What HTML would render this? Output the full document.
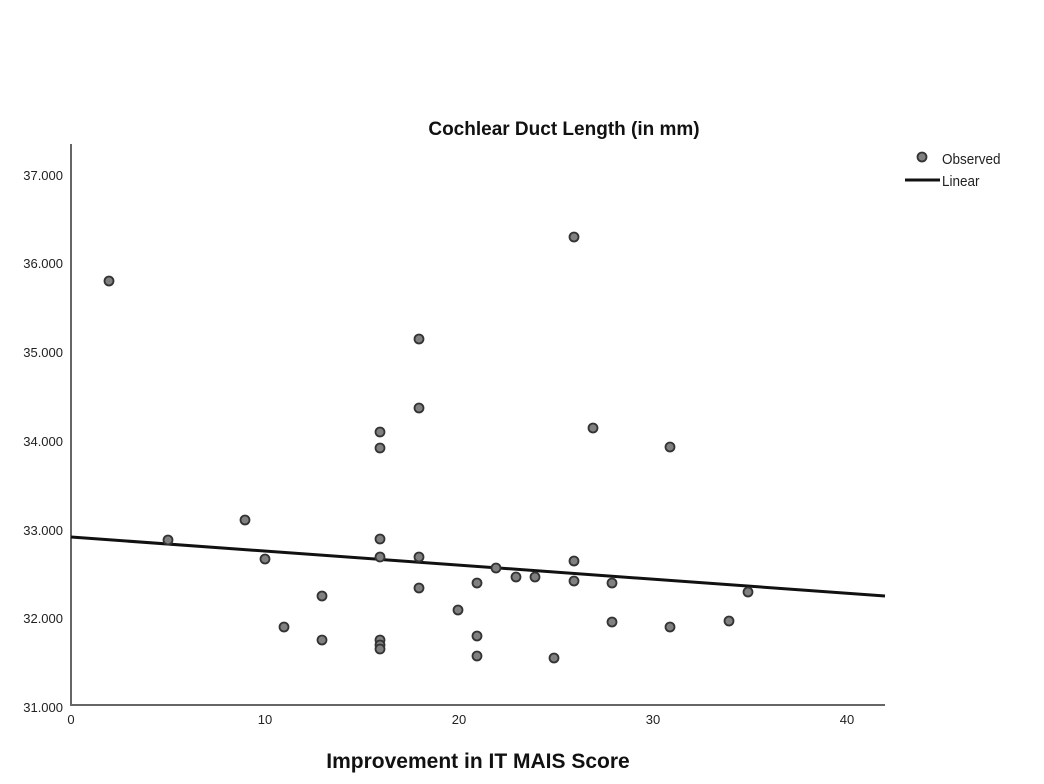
<!DOCTYPE html><html><head><style>body{margin:0;background:#fff}</style></head><body>
<svg width="1044" height="779" xmlns="http://www.w3.org/2000/svg" font-family="Liberation Sans, sans-serif">
<rect width="1044" height="779" fill="#fff"/>
<text x="564" y="135" font-size="19" font-weight="bold" text-anchor="middle" fill="#111">Cochlear Duct Length  (in mm)</text>
<line x1="71" y1="144" x2="71" y2="705" stroke="#666" stroke-width="2"/>
<line x1="70" y1="705" x2="885" y2="705" stroke="#666" stroke-width="2"/>
<g font-size="13" fill="#222" text-anchor="end">
<text x="63" y="180">37.000</text><text x="63" y="268">36.000</text><text x="63" y="357">35.000</text><text x="63" y="446">34.000</text><text x="63" y="535">33.000</text><text x="63" y="623">32.000</text><text x="63" y="712">31.000</text></g>
<g font-size="13" fill="#222" text-anchor="middle">
<text x="71" y="724">0</text><text x="265" y="724">10</text><text x="459" y="724">20</text><text x="653" y="724">30</text><text x="847" y="724">40</text></g>
<text x="478" y="768" font-size="21" font-weight="bold" text-anchor="middle" fill="#111">Improvement in IT MAIS Score</text>
<line x1="71" y1="537" x2="885" y2="596" stroke="#111" stroke-width="3"/>
<g fill="#808080" stroke="#333" stroke-width="1.8">
<circle cx="109" cy="281" r="4.5"/><circle cx="168" cy="540" r="4.5"/><circle cx="245" cy="520" r="4.5"/><circle cx="265" cy="559" r="4.5"/><circle cx="284" cy="627" r="4.5"/><circle cx="322" cy="596" r="4.5"/><circle cx="322" cy="640" r="4.5"/><circle cx="380" cy="432" r="4.5"/><circle cx="380" cy="448" r="4.5"/><circle cx="380" cy="539" r="4.5"/><circle cx="380" cy="557" r="4.5"/><circle cx="380" cy="640" r="4.5"/><circle cx="380" cy="645" r="4.5"/><circle cx="380" cy="649" r="4.5"/><circle cx="419" cy="339" r="4.5"/><circle cx="419" cy="408" r="4.5"/><circle cx="419" cy="557" r="4.5"/><circle cx="419" cy="588" r="4.5"/><circle cx="458" cy="610" r="4.5"/><circle cx="477" cy="583" r="4.5"/><circle cx="477" cy="636" r="4.5"/><circle cx="477" cy="656" r="4.5"/><circle cx="496" cy="568" r="4.5"/><circle cx="516" cy="577" r="4.5"/><circle cx="535" cy="577" r="4.5"/><circle cx="554" cy="658" r="4.5"/><circle cx="574" cy="237" r="4.5"/><circle cx="574" cy="561" r="4.5"/><circle cx="574" cy="581" r="4.5"/><circle cx="593" cy="428" r="4.5"/><circle cx="612" cy="583" r="4.5"/><circle cx="612" cy="622" r="4.5"/><circle cx="670" cy="447" r="4.5"/><circle cx="670" cy="627" r="4.5"/><circle cx="729" cy="621" r="4.5"/><circle cx="748" cy="592" r="4.5"/>
<circle cx="922" cy="157" r="4.5"/></g>
<line x1="905" y1="180" x2="940" y2="180" stroke="#111" stroke-width="3"/>
<g font-size="15" fill="#222" transform="translate(942 0) scale(0.9 1)"><text x="0" y="164">Observed</text><text x="0" y="186">Linear</text></g>
</svg></body></html>
